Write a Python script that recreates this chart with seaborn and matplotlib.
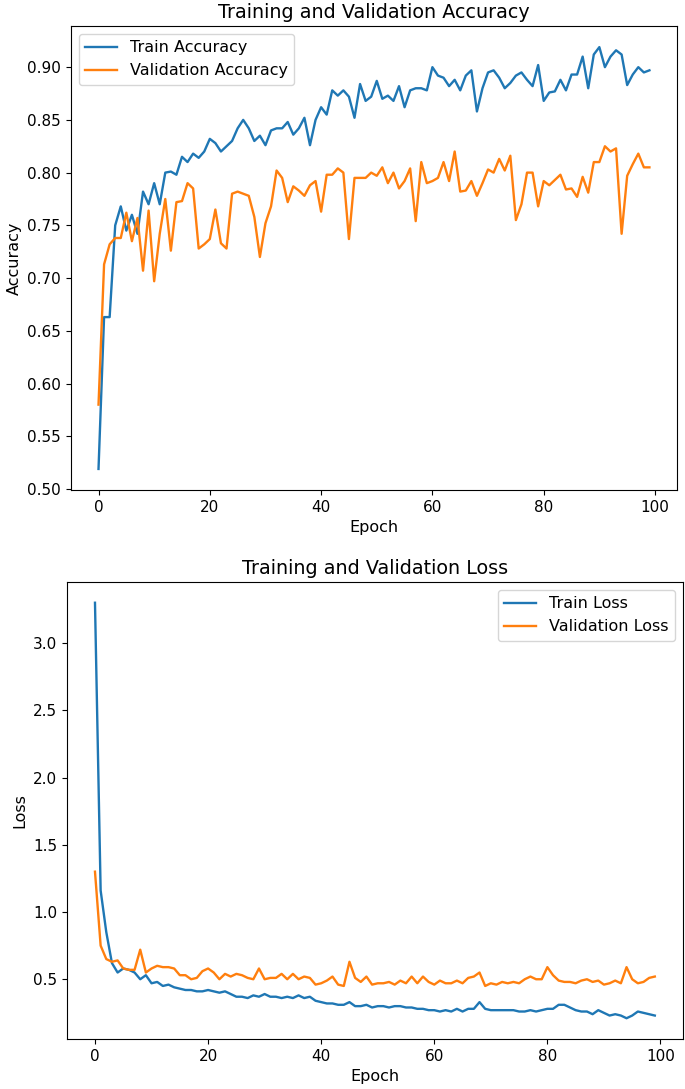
import numpy as np
import pandas as pd
import matplotlib
matplotlib.use("Agg")
import matplotlib.pyplot as plt
import seaborn as sns

# training history (100 epochs)
train_acc = [0.519, 0.663, 0.663, 0.750, 0.768, 0.745, 0.760, 0.742, 0.782, 0.770,
             0.790, 0.770, 0.800, 0.801, 0.798, 0.815, 0.810, 0.818, 0.814, 0.820,
             0.832, 0.828, 0.820, 0.825, 0.830, 0.842, 0.850, 0.842, 0.830, 0.835,
             0.826, 0.840, 0.842, 0.842, 0.848, 0.836, 0.842, 0.852, 0.826, 0.850,
             0.862, 0.855, 0.878, 0.873, 0.878, 0.872, 0.852, 0.884, 0.868, 0.872,
             0.887, 0.870, 0.873, 0.868, 0.882, 0.862, 0.878, 0.880, 0.880, 0.878,
             0.900, 0.892, 0.890, 0.882, 0.888, 0.878, 0.892, 0.897, 0.858, 0.880,
             0.895, 0.897, 0.890, 0.880, 0.885, 0.892, 0.895, 0.888, 0.882, 0.902,
             0.868, 0.876, 0.877, 0.888, 0.878, 0.893, 0.893, 0.910, 0.880, 0.912,
             0.919, 0.900, 0.910, 0.916, 0.912, 0.883, 0.893, 0.900, 0.895, 0.897]

val_acc = [0.580, 0.713, 0.732, 0.738, 0.738, 0.762, 0.735, 0.757, 0.707, 0.764,
           0.697, 0.742, 0.775, 0.726, 0.772, 0.773, 0.790, 0.785, 0.728, 0.732,
           0.737, 0.765, 0.733, 0.728, 0.780, 0.782, 0.780, 0.778, 0.758, 0.720,
           0.752, 0.768, 0.802, 0.795, 0.772, 0.787, 0.783, 0.778, 0.788, 0.792,
           0.763, 0.798, 0.798, 0.804, 0.800, 0.737, 0.795, 0.795, 0.795, 0.800,
           0.797, 0.805, 0.790, 0.800, 0.785, 0.792, 0.804, 0.754, 0.810, 0.790,
           0.792, 0.795, 0.810, 0.792, 0.820, 0.782, 0.783, 0.792, 0.778, 0.790,
           0.803, 0.800, 0.813, 0.802, 0.816, 0.755, 0.770, 0.800, 0.800, 0.768,
           0.792, 0.788, 0.793, 0.798, 0.784, 0.785, 0.777, 0.796, 0.781, 0.810,
           0.810, 0.825, 0.820, 0.823, 0.742, 0.797, 0.808, 0.818, 0.805, 0.805]

train_loss = [3.30, 1.16, 0.85, 0.62, 0.55, 0.58, 0.57, 0.55, 0.50, 0.53,
              0.47, 0.48, 0.45, 0.46, 0.44, 0.43, 0.42, 0.42, 0.41, 0.41,
              0.42, 0.41, 0.40, 0.41, 0.39, 0.37, 0.37, 0.36, 0.38, 0.37,
              0.39, 0.37, 0.37, 0.36, 0.37, 0.36, 0.38, 0.36, 0.37, 0.34,
              0.33, 0.32, 0.32, 0.31, 0.31, 0.33, 0.30, 0.30, 0.31, 0.29,
              0.30, 0.30, 0.29, 0.30, 0.30, 0.29, 0.29, 0.28, 0.28, 0.27,
              0.27, 0.26, 0.27, 0.26, 0.28, 0.26, 0.28, 0.28, 0.33, 0.28,
              0.27, 0.27, 0.27, 0.27, 0.27, 0.26, 0.26, 0.27, 0.26, 0.27,
              0.28, 0.28, 0.31, 0.31, 0.29, 0.27, 0.26, 0.26, 0.24, 0.27,
              0.25, 0.23, 0.24, 0.23, 0.21, 0.23, 0.26, 0.25, 0.24, 0.23]

val_loss = [1.30, 0.75, 0.65, 0.63, 0.64, 0.58, 0.57, 0.57, 0.72, 0.55,
            0.58, 0.60, 0.59, 0.59, 0.58, 0.53, 0.53, 0.50, 0.51, 0.56,
            0.58, 0.55, 0.50, 0.54, 0.52, 0.54, 0.53, 0.51, 0.50, 0.58,
            0.50, 0.51, 0.51, 0.54, 0.50, 0.54, 0.50, 0.52, 0.51, 0.46,
            0.47, 0.49, 0.52, 0.46, 0.45, 0.63, 0.51, 0.48, 0.52, 0.46,
            0.47, 0.47, 0.48, 0.46, 0.49, 0.47, 0.52, 0.47, 0.52, 0.48,
            0.46, 0.49, 0.47, 0.47, 0.49, 0.47, 0.51, 0.52, 0.55, 0.45,
            0.47, 0.46, 0.48, 0.47, 0.48, 0.47, 0.50, 0.52, 0.50, 0.50,
            0.59, 0.53, 0.49, 0.48, 0.48, 0.47, 0.49, 0.50, 0.48, 0.49,
            0.46, 0.47, 0.49, 0.47, 0.59, 0.50, 0.47, 0.48, 0.51, 0.52]

epochs = np.arange(len(train_acc))

acc_df = pd.DataFrame({
    "Epoch": np.concatenate([epochs, epochs]),
    "value": train_acc + val_acc,
    "series": ["Train Accuracy"] * len(epochs) + ["Validation Accuracy"] * len(epochs),
})
loss_df = pd.DataFrame({
    "Epoch": np.concatenate([epochs, epochs]),
    "value": train_loss + val_loss,
    "series": ["Train Loss"] * len(epochs) + ["Validation Loss"] * len(epochs),
})

palette = ["#1f77b4", "#ff7f0e"]

plt.rcParams.update({
    "xtick.labelsize": 11,
    "ytick.labelsize": 11,
    "axes.labelsize": 11.5,
    "axes.titlesize": 13.8,
    "legend.fontsize": 11.5,
})

fig = plt.figure(figsize=(6.85, 10.89), dpi=100)
ax1 = fig.add_axes([0.1036, 0.5500, 0.8847, 0.4261])
ax2 = fig.add_axes([0.0978, 0.0459, 0.8990, 0.4197])

sns.lineplot(data=acc_df, x="Epoch", y="value", hue="series", palette=palette,
             linewidth=1.7, ax=ax1)
ax1.set_title("Training and Validation Accuracy")
ax1.set_xlabel("Epoch")
ax1.set_ylabel("Accuracy")
ax1.legend(loc="upper left")

sns.lineplot(data=loss_df, x="Epoch", y="value", hue="series", palette=palette,
             linewidth=1.7, ax=ax2)
ax2.set_title("Training and Validation Loss")
ax2.set_xlabel("Epoch")
ax2.set_ylabel("Loss")
ax2.legend(loc="upper right")

fig.savefig("out.png", dpi=100)
